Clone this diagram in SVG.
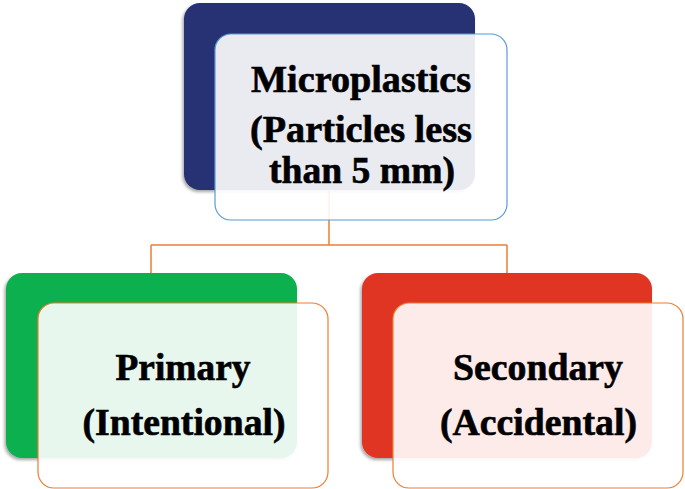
<svg xmlns="http://www.w3.org/2000/svg" width="685" height="489" viewBox="0 0 685 489">
<defs>
<filter id="sh" x="-10%" y="-10%" width="120%" height="120%">
<feDropShadow dx="-1.5" dy="2" stdDeviation="1.5" flood-color="#000" flood-opacity="0.35"/>
</filter>
</defs>
<style>
.back{filter:url(#sh)}
.front{fill:#ffffff;fill-opacity:0.9;stroke-width:1.2}
.conn{fill:none;stroke:#ed7d31;stroke-width:1.5}
.t{font-family:'Liberation Serif','Times New Roman',serif;font-weight:bold;fill:#000;stroke:#000;stroke-width:0.6;text-anchor:middle;font-size:37px}
</style>
<rect width="685" height="489" fill="#ffffff"/>
<g id="node-microplastics-back">
<rect class="back" x="184" y="3" width="291" height="187" rx="16" fill="#253073"/>
</g>
<g id="node-primary-back">
<rect class="back" x="6" y="273" width="291" height="185" rx="16" fill="#10b050"/>
</g>
<g id="node-secondary-back">
<rect class="back" x="362" y="273" width="290" height="185" rx="16" fill="#e03424"/>
</g>
<g id="connectors">
<path class="conn" d="M329 190 V245 M151 245 H507 M151 245 V273 M507 245 V273"/>
</g>
<g id="node-microplastics">
<rect class="front" x="215" y="34" width="292" height="186" rx="16" stroke="#5b9bd5"/>
<text class="t" x="361" y="92" textLength="220" lengthAdjust="spacingAndGlyphs">Microplastics</text>
<text class="t" x="361" y="142" textLength="222" lengthAdjust="spacingAndGlyphs">(Particles less</text>
<text class="t" x="362" y="183" textLength="186" lengthAdjust="spacingAndGlyphs">than 5 mm)</text>
</g>
<g id="node-primary">
<rect class="front" x="38" y="303" width="290" height="185" rx="16" stroke="#ed7d31"/>
<text class="t" x="183" y="380" textLength="135" lengthAdjust="spacingAndGlyphs">Primary</text>
<text class="t" x="184" y="435" textLength="203" lengthAdjust="spacingAndGlyphs">(Intentional)</text>
</g>
<g id="node-secondary">
<rect class="front" x="393" y="303" width="290" height="185" rx="16" stroke="#ed7d31"/>
<text class="t" x="538" y="380" textLength="170" lengthAdjust="spacingAndGlyphs">Secondary</text>
<text class="t" x="538.5" y="435" textLength="197" lengthAdjust="spacingAndGlyphs">(Accidental)</text>
</g>
</svg>
